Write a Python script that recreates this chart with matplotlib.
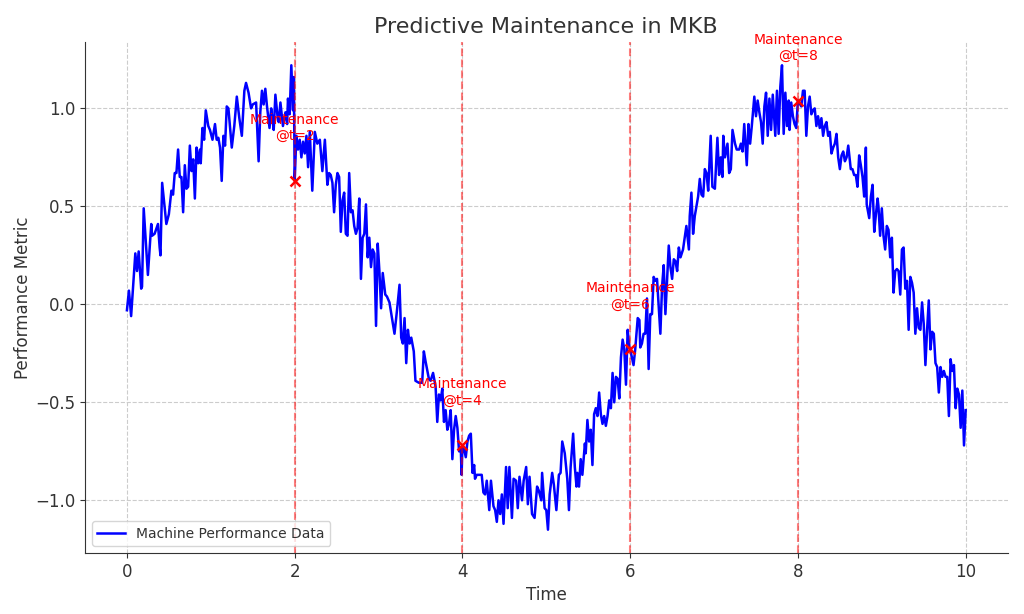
import numpy as np
import matplotlib.pyplot as plt

# (time, performance)
readings = [
    (0.00, -0.03), (0.024, 0.07), (0.05, -0.06), (0.10, 0.26), (0.12, 0.17), (0.14, 0.27),
    (0.17, 0.08), (0.18, 0.09), (0.20, 0.49), (0.25, 0.15), (0.29, 0.41), (0.30, 0.35),
    (0.33, 0.36), (0.37, 0.41), (0.39, 0.29), (0.40, 0.25), (0.42, 0.62), (0.47, 0.41),
    (0.50, 0.46), (0.53, 0.58), (0.55, 0.56), (0.57, 0.67), (0.59, 0.67), (0.61, 0.79),
    (0.63, 0.65), (0.65, 0.65), (0.67, 0.47), (0.69, 0.71), (0.71, 0.59), (0.73, 0.60),
    (0.75, 0.81), (0.77, 0.68), (0.79, 0.74), (0.81, 0.54), (0.83, 0.80), (0.85, 0.72),
    (0.87, 0.79), (0.88, 0.72), (0.90, 0.90), (0.92, 0.84), (0.94, 0.99), (0.97, 0.91),
    (0.99, 0.89), (1.02, 0.84), (1.05, 0.92), (1.07, 0.84), (1.09, 0.85), (1.11, 0.80),
    (1.13, 0.63), (1.15, 0.86), (1.17, 0.81), (1.19, 1.01), (1.21, 1.00), (1.25, 0.80),
    (1.28, 0.91), (1.31, 1.06), (1.34, 0.95), (1.37, 0.86), (1.40, 1.09), (1.42, 1.13),
    (1.45, 1.08), (1.48, 1.00), (1.50, 1.02), (1.54, 1.03), (1.57, 0.73), (1.59, 0.98),
    (1.61, 1.09), (1.63, 1.02), (1.65, 1.10), (1.67, 1.01), (1.70, 0.90), (1.72, 1.00),
    (1.73, 0.96), (1.75, 0.89), (1.77, 1.07), (1.80, 0.94), (1.81, 0.93), (1.83, 1.03),
    (1.86, 0.91), (1.89, 0.98), (1.91, 0.92), (1.92, 1.05), (1.94, 0.97), (1.96, 1.22),
    (1.98, 0.99), (1.99, 1.16), (2.00, 0.63), (2.02, 0.86), (2.04, 0.79), (2.06, 0.84),
    (2.08, 0.75), (2.10, 0.83), (2.12, 0.77), (2.14, 0.86), (2.16, 0.70), (2.18, 0.88),
    (2.21, 0.58), (2.24, 0.88), (2.27, 0.82), (2.30, 0.84), (2.33, 0.68), (2.36, 0.84),
    (2.39, 0.61), (2.41, 0.67), (2.43, 0.66), (2.45, 0.62), (2.47, 0.47), (2.49, 0.61),
    (2.51, 0.67), (2.53, 0.65), (2.55, 0.37), (2.57, 0.53), (2.59, 0.57), (2.61, 0.36),
    (2.63, 0.35), (2.65, 0.67), (2.67, 0.47), (2.69, 0.48), (2.71, 0.40), (2.73, 0.36),
    (2.75, 0.39), (2.77, 0.54), (2.79, 0.13), (2.81, 0.34), (2.83, 0.36), (2.85, 0.51),
    (2.87, 0.24), (2.89, 0.34), (2.91, 0.19), (2.93, 0.28), (2.95, 0.26), (2.97, -0.11),
    (2.99, 0.31), (3.01, 0.17), (3.03, -0.02), (3.05, 0.16), (3.08, 0.05), (3.10, 0.04),
    (3.13, 0.01), (3.16, -0.07), (3.19, -0.15), (3.22, -0.03), (3.25, 0.10), (3.27, -0.17),
    (3.29, -0.20), (3.31, -0.07), (3.33, -0.30), (3.35, -0.13), (3.37, -0.20), (3.39, -0.17),
    (3.42, -0.24), (3.44, -0.39), (3.48, -0.40), (3.52, -0.40), (3.54, -0.24), (3.56, -0.29),
    (3.60, -0.38), (3.62, -0.39), (3.65, -0.35), (3.68, -0.42), (3.70, -0.60), (3.72, -0.46),
    (3.74, -0.49), (3.76, -0.43), (3.78, -0.60), (3.80, -0.54), (3.82, -0.64), (3.84, -0.61),
    (3.86, -0.54), (3.88, -0.79), (3.90, -0.64), (3.92, -0.57), (3.94, -0.63), (3.96, -0.75),
    (3.98, -0.73), (3.99, -0.87), (4.00, -0.72), (4.02, -0.74), (4.04, -0.78), (4.06, -0.70),
    (4.08, -0.67), (4.10, -0.66), (4.12, -0.86), (4.14, -0.82), (4.15, -0.89), (4.17, -0.87),
    (4.20, -0.87), (4.23, -0.87), (4.25, -0.96), (4.27, -0.97), (4.29, -0.90), (4.32, -1.05),
    (4.34, -0.90), (4.37, -1.03), (4.39, -1.05), (4.41, -1.11), (4.43, -1.00), (4.45, -1.07),
    (4.47, -0.97), (4.49, -1.12), (4.52, -0.83), (4.54, -1.04), (4.56, -0.83), (4.59, -1.09),
    (4.61, -0.89), (4.64, -0.90), (4.66, -1.04), (4.68, -0.88), (4.71, -1.00), (4.73, -0.90),
    (4.76, -0.83), (4.78, -1.02), (4.80, -0.88), (4.83, -1.07), (4.86, -1.09), (4.89, -0.93),
    (4.91, -0.95), (4.94, -1.00), (4.95, -0.86), (4.98, -1.04), (5.00, -1.05), (5.02, -1.15),
    (5.04, -0.97), (5.07, -0.86), (5.09, -0.92), (5.12, -1.05), (5.15, -0.87), (5.17, -0.86),
    (5.19, -0.70), (5.22, -0.76), (5.25, -0.89), (5.27, -1.05), (5.29, -0.83), (5.32, -0.66),
    (5.34, -0.83), (5.36, -0.93), (5.37, -0.86), (5.39, -0.93), (5.41, -0.79), (5.43, -0.87),
    (5.46, -0.71), (5.47, -0.76), (5.49, -0.59), (5.51, -0.70), (5.53, -0.64), (5.55, -0.82),
    (5.57, -0.56), (5.59, -0.53), (5.61, -0.57), (5.63, -0.45), (5.65, -0.56), (5.67, -0.61),
    (5.69, -0.57), (5.71, -0.62), (5.73, -0.57), (5.75, -0.49), (5.77, -0.53), (5.79, -0.35),
    (5.81, -0.50), (5.83, -0.37), (5.85, -0.38), (5.87, -0.48), (5.89, -0.27), (5.91, -0.18),
    (5.93, -0.23), (5.95, -0.41), (5.97, -0.13), (5.99, -0.22), (6.00, -0.23), (6.04, -0.31),
    (6.06, -0.23), (6.09, -0.07), (6.11, -0.08), (6.12, -0.22), (6.14, -0.20), (6.16, -0.15),
    (6.18, -0.15), (6.20, 0.03), (6.22, -0.33), (6.24, -0.05), (6.26, -0.05), (6.28, 0.14),
    (6.30, 0.12), (6.32, 0.13), (6.34, -0.01), (6.36, -0.15), (6.38, 0.09), (6.40, 0.20),
    (6.42, -0.05), (6.44, 0.12), (6.46, 0.30), (6.48, 0.19), (6.50, 0.13), (6.52, 0.23),
    (6.54, 0.22), (6.56, 0.17), (6.58, 0.29), (6.60, 0.24), (6.63, 0.28), (6.65, 0.34),
    (6.67, 0.40), (6.70, 0.28), (6.71, 0.45), (6.73, 0.57), (6.75, 0.36), (6.77, 0.45),
    (6.79, 0.50), (6.81, 0.55), (6.83, 0.64), (6.85, 0.56), (6.87, 0.55), (6.89, 0.69),
    (6.91, 0.67), (6.93, 0.58), (6.96, 0.86), (6.98, 0.60), (7.01, 0.59), (7.04, 0.85),
    (7.06, 0.66), (7.08, 0.75), (7.10, 0.65), (7.11, 0.86), (7.13, 0.75), (7.16, 0.82),
    (7.18, 0.67), (7.20, 0.69), (7.22, 0.89), (7.25, 0.82), (7.27, 0.79), (7.30, 0.79),
    (7.32, 0.82), (7.34, 0.78), (7.36, 0.92), (7.39, 0.71), (7.41, 0.92), (7.43, 0.82),
    (7.45, 0.91), (7.48, 1.06), (7.50, 0.96), (7.52, 1.04), (7.54, 0.98), (7.56, 0.93),
    (7.58, 0.82), (7.60, 1.01), (7.62, 1.08), (7.64, 0.86), (7.66, 1.05), (7.68, 0.89),
    (7.70, 1.07), (7.73, 0.86), (7.75, 1.09), (7.77, 0.87), (7.79, 1.11), (7.81, 1.22),
    (7.83, 0.87), (7.85, 1.08), (7.87, 0.91), (7.89, 1.04), (7.90, 0.89), (7.92, 1.03),
    (7.94, 0.96), (7.96, 0.92), (7.98, 0.90), (8.00, 1.04), (8.04, 1.01), (8.06, 1.09),
    (8.08, 1.09), (8.10, 0.86), (8.12, 1.01), (8.14, 1.06), (8.16, 0.97), (8.18, 0.99),
    (8.20, 1.00), (8.22, 0.91), (8.24, 0.96), (8.26, 0.90), (8.28, 0.95), (8.30, 0.86),
    (8.32, 0.91), (8.34, 0.93), (8.36, 0.86), (8.38, 0.88), (8.40, 0.77), (8.42, 0.80),
    (8.44, 0.82), (8.46, 0.87), (8.48, 0.75), (8.50, 0.69), (8.52, 0.76), (8.54, 0.78),
    (8.56, 0.73), (8.58, 0.75), (8.60, 0.81), (8.63, 0.69), (8.65, 0.69), (8.67, 0.66),
    (8.69, 0.66), (8.71, 0.60), (8.73, 0.76), (8.75, 0.71), (8.77, 0.65), (8.79, 0.55),
    (8.81, 0.80), (8.82, 0.51), (8.85, 0.44), (8.87, 0.55), (8.89, 0.61), (8.91, 0.37),
    (8.93, 0.46), (8.95, 0.54), (8.96, 0.50), (8.98, 0.35), (9.00, 0.49), (9.02, 0.35),
    (9.04, 0.28), (9.06, 0.40), (9.08, 0.38), (9.10, 0.24), (9.12, 0.34), (9.14, 0.06),
    (9.16, 0.17), (9.18, 0.18), (9.20, 0.17), (9.22, 0.05), (9.24, 0.28), (9.26, 0.29),
    (9.28, 0.08), (9.30, 0.12), (9.32, -0.13), (9.34, 0.14), (9.36, 0.11), (9.38, 0.06),
    (9.40, -0.15), (9.42, -0.02), (9.44, -0.12), (9.46, -0.13), (9.48, 0.01), (9.50, -0.10),
    (9.52, -0.31), (9.54, -0.13), (9.56, 0.02), (9.58, -0.23), (9.60, -0.14), (9.62, -0.15),
    (9.64, -0.30), (9.66, -0.32), (9.68, -0.45), (9.70, -0.32), (9.72, -0.37), (9.74, -0.34),
    (9.76, -0.37), (9.78, -0.37), (9.80, -0.57), (9.82, -0.28), (9.84, -0.34), (9.86, -0.31),
    (9.88, -0.53), (9.90, -0.43), (9.92, -0.46), (9.94, -0.63), (9.96, -0.44), (9.98, -0.72),
    (10.00, -0.54),
]

maint_times = [2, 4, 6, 8]
maint_values = [0.63, -0.72, -0.23, 1.04]

time = np.array([r[0] for r in readings])
perf = np.array([r[1] for r in readings])

txt = '#333333'
plt.rcParams['text.color'] = txt
plt.rcParams['axes.labelcolor'] = txt
plt.rcParams['xtick.labelcolor'] = txt
plt.rcParams['ytick.labelcolor'] = txt
plt.rcParams['axes.edgecolor'] = txt
plt.rcParams['xtick.color'] = txt
plt.rcParams['ytick.color'] = txt

fig = plt.figure(figsize=(10.24, 6.14), dpi=100)
ax = fig.add_axes([0.083, 0.099, 0.901, 0.833])

ax.plot(time, perf, color='blue', linewidth=1.8, label='Machine Performance Data')

for t, v in zip(maint_times, maint_values):
    ax.axvline(t, color='red', linestyle='--', linewidth=1.5, alpha=0.5)
    ax.plot(t, v, marker='x', color='red', markersize=7, markeredgewidth=1.8)
    ax.text(t, v + 0.27, f'Maintenance\n@t={t}', color='red', fontsize=10,
            ha='center', va='center')

ax.set_xlim(-0.5, 10.5)
ax.set_ylim(-1.27, 1.34)
ax.set_title('Predictive Maintenance in MKB', fontsize=16)
ax.set_xlabel('Time', fontsize=12)
ax.set_ylabel('Performance Metric', fontsize=12, labelpad=2)
ax.tick_params(labelsize=12)
ax.grid(True, linestyle='--', color='#cccccc', linewidth=0.8)
ax.spines['top'].set_visible(False)
ax.spines['right'].set_visible(False)
ax.legend(loc='lower left', fontsize=10)

fig.savefig('out.png')
